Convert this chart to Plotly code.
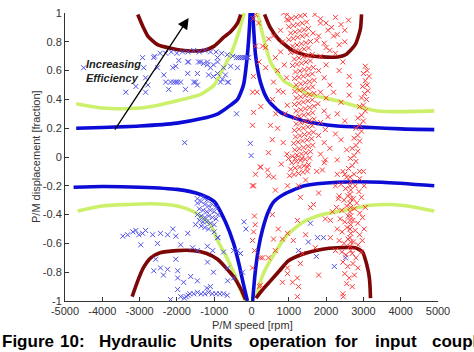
import plotly.graph_objects as go

# ---------------- efficiency contour curves (speed rpm, displacement fraction)
blue_tl_x = [-4700, -4000, -3000, -2000, -1365, -900, -560, -375, -215, -110, -50, -35]
blue_tl_y = [0.20, 0.205, 0.215, 0.235, 0.265, 0.30, 0.36, 0.40, 0.50, 0.71, 0.92, 1.0]
blue_tr_x = [30, 60, 107, 240, 430, 780, 1420, 2300, 3190, 4000, 4900]
blue_tr_y = [1.0, 0.88, 0.71, 0.52, 0.40, 0.31, 0.25, 0.215, 0.205, 0.195, 0.19]
blue_bl_x = [-4770, -4000, -3000, -2000, -1365, -1000, -700, -480, -330, -220, -110]
blue_bl_y = [-0.21, -0.205, -0.21, -0.225, -0.26, -0.31, -0.45, -0.60, -0.75, -0.88, -1.0]
blue_br_x = [30, 100, 190, 300, 450, 600, 860, 1420, 2300, 3500, 4900]
blue_br_y = [-1.0, -0.80, -0.63, -0.50, -0.38, -0.31, -0.26, -0.20, -0.175, -0.175, -0.20]

yel_tl_x = [-4700, -4000, -3500, -3000, -2500, -2000, -1365, -1000, -830, -560, -400, -280, -200]
yel_tl_y = [0.37, 0.34, 0.335, 0.34, 0.36, 0.39, 0.435, 0.50, 0.58, 0.71, 0.82, 0.92, 1.0]
yel_tr_x = [160, 300, 510, 860, 1045, 1500, 2300, 3000, 3370, 4000, 4900]
yel_tr_y = [1.0, 0.85, 0.66, 0.53, 0.50, 0.44, 0.39, 0.34, 0.32, 0.315, 0.32]
yel_bl_x = [-4660, -4000, -3320, -2700, -2000, -1550, -1100, -910, -700, -500, -330, -170]
yel_bl_y = [-0.375, -0.34, -0.33, -0.325, -0.34, -0.38, -0.47, -0.58, -0.68, -0.79, -0.90, -1.0]
yel_br_x = [120, 300, 615, 965, 1400, 1900, 2600, 3190, 3720, 4300, 4900]
yel_br_y = [-0.98, -0.82, -0.67, -0.54, -0.45, -0.40, -0.365, -0.335, -0.33, -0.345, -0.375]

red_tl_x = [-3050, -2900, -2780, -2520, -2170, -1800, -1285, -1000, -750, -560, -375, -290]
red_tl_y = [0.99, 0.90, 0.84, 0.78, 0.755, 0.74, 0.74, 0.77, 0.83, 0.87, 0.93, 0.99]
red_tr_x = [350, 500, 720, 1100, 1420, 1900, 2300, 2520, 2780, 2920, 2950]
red_tr_y = [0.99, 0.90, 0.82, 0.74, 0.71, 0.695, 0.695, 0.71, 0.78, 0.89, 0.99]
red_bl_x = [-3200, -3050, -2900, -2700, -2450, -2000, -1550, -1200, -910, -650, -430, -280, -160]
red_bl_y = [-0.97, -0.86, -0.77, -0.70, -0.665, -0.65, -0.65, -0.67, -0.71, -0.78, -0.85, -0.92, -0.99]
red_br_x = [120, 300, 510, 750, 990, 1420, 1900, 2300, 2780, 2980, 3050, 3120, 3160, 3180, 3190]
red_br_y = [-0.98, -0.92, -0.86, -0.79, -0.72, -0.67, -0.64, -0.63, -0.63, -0.66, -0.71, -0.78, -0.84, -0.91, -0.98]

# ---------------- measured operating points (red: one unit, blue: other unit)
red_band = [
    (950, 0.955), (1070, 0.963), (1190, 0.971), (1310, 0.979), (1430, 0.987),
    (1000, 0.905), (1120, 0.913), (1240, 0.921), (1360, 0.929), (1480, 0.937),
    (1050, 0.86), (1170, 0.868), (1290, 0.876), (1410, 0.884), (1530, 0.892),
    (1000, 0.815), (1120, 0.823), (1240, 0.831), (1360, 0.839), (1480, 0.847),
    (1100, 0.77), (1220, 0.778), (1340, 0.786), (1460, 0.794), (1580, 0.802),
    (1050, 0.725), (1170, 0.733), (1290, 0.741), (1410, 0.749), (1530, 0.757),
    (1150, 0.68), (1270, 0.688), (1390, 0.696), (1510, 0.704), (1630, 0.712),
    (1100, 0.635), (1220, 0.643), (1340, 0.651), (1460, 0.659), (1580, 0.667),
    (1180, 0.59), (1300, 0.598), (1420, 0.606), (1540, 0.614), (1660, 0.622),
    (1150, 0.545), (1270, 0.553), (1390, 0.561), (1510, 0.569), (1630, 0.577),
    (1200, 0.50), (1320, 0.508), (1440, 0.516), (1560, 0.524), (1680, 0.532),
    (1160, 0.455), (1280, 0.463), (1400, 0.471), (1520, 0.479), (1640, 0.487),
    (1200, 0.41), (1320, 0.418), (1440, 0.426), (1560, 0.434), (1680, 0.442),
    (1150, 0.365), (1270, 0.373), (1390, 0.381), (1510, 0.389), (1630, 0.397),
    (1200, 0.32), (1320, 0.328), (1440, 0.336), (1560, 0.344), (1680, 0.352),
    (1160, 0.275), (1280, 0.283), (1400, 0.291), (1520, 0.299), (1640, 0.307),
    (1200, 0.23), (1320, 0.238), (1440, 0.246), (1560, 0.254), (1680, 0.262),
    (1150, 0.185), (1270, 0.193), (1390, 0.201), (1510, 0.209), (1630, 0.217),
    (1180, 0.14), (1300, 0.148), (1420, 0.156), (1540, 0.164), (1660, 0.172),
    (1130, 0.095), (1250, 0.103), (1370, 0.111), (1490, 0.119), (1610, 0.127),
    (1160, 0.05), (1280, 0.058), (1400, 0.066), (1520, 0.074), (1640, 0.082),
    (1100, 0.005), (1220, 0.013), (1340, 0.021), (1460, 0.029), (1580, 0.037),
    (1080, -0.04), (1200, -0.032), (1320, -0.024), (1440, -0.016), (1560, -0.008),
    (1050, -0.085), (1170, -0.077), (1290, -0.069), (1410, -0.061), (1530, -0.053),
    (1020, -0.13), (1140, -0.122), (1260, -0.114), (1380, -0.106), (1500, -0.098),
]
red_sparse_top = [
    (1850, 0.93), (2050, 0.88), (1800, 0.84), (1950, 0.79), (2100, 0.74), (1850, 0.70),
    (2000, 0.64), (1800, 0.60), (1950, 0.55), (2100, 0.50), (1850, 0.45), (2000, 0.41),
    (1780, 0.37), (1950, 0.32), (2050, 0.28), (1850, 0.24), (1980, 0.19), (1800, 0.15),
    (1950, 0.10), (2100, 0.06), (1850, 0.02), (1950, -0.04), (1750, -0.10),
    (2250, 0.97), (2400, 0.92), (2300, 0.85), (2500, 0.80), (2250, 0.72), (2450, 0.66),
    (2350, 0.60), (2200, 0.45), (2400, 0.38), (2300, 0.30), (2500, 0.25), (2250, 0.16),
    (2400, 0.12), (2550, 0.05), (2300, -0.02),
    (1700, 0.99), (1850, 0.96), (2000, 0.93), (2150, 0.90), (1650, 0.86), (2200, 0.84),
    (1750, 0.81), (2350, 0.78), (2000, 0.76), (2600, 0.95), (2500, 0.88),
    (2620, 0.56), (2620, 0.50), (2620, 0.43),
]
red_near_zero = [
    (50, 0.96), (110, 0.99), (190, 0.93), (110, 0.77), (300, 0.77), (380, 0.76),
    (50, 0.56), (380, 0.62), (590, 0.52), (640, 0.69), (590, 0.84), (460, 0.82),
    (780, 0.88), (830, 0.80), (860, 1.0), (960, 0.99), (990, 0.95), (780, 0.73),
    (720, 0.46), (560, 0.40), (200, 0.66), (150, 0.45), (700, 0.60), (880, 0.64),
    (940, 0.55), (850, 0.45), (960, 0.36), (650, 0.30),
    (55, 0.31), (27, 0.22), (510, 0.22), (560, 0.12), (455, 0.03), (240, -0.07),
    (430, -0.09), (107, -0.12), (55, -0.20), (590, -0.14), (640, -0.23), (30, 0.45),
    (250, 0.35), (700, 0.20), (850, 0.10), (800, -0.05), (900, 0.30), (950, 0.02),
    (27, -0.20), (80, -0.41), (27, -0.58), (80, -0.65), (27, -0.77), (240, -0.70),
    (215, -0.90), (100, -0.47), (55, -0.52),
]
red_right_diag = [
    (3050, 0.63), (3100, 0.60), (3000, 0.58), (3150, 0.56), (3050, 0.53), (3100, 0.50),
    (2980, 0.49), (3120, 0.46), (3030, 0.44), (2950, 0.41), (3080, 0.40), (3000, 0.36),
    (2900, 0.35), (3050, 0.32), (2950, 0.29), (2850, 0.27), (3000, 0.25), (2900, 0.22),
    (2800, 0.20), (2950, 0.18), (2850, 0.15), (2750, 0.13), (2900, 0.11), (2800, 0.08),
    (2700, 0.06), (2850, 0.04), (2750, 0.01), (2650, -0.01), (2800, -0.03), (2700, -0.06),
    (2600, -0.08), (2900, -0.10), (2500, -0.12),
]
red_column = [
    (2640, -0.14), (2660, -0.17), (2640, -0.20), (2660, -0.23), (2640, -0.26), (2660, -0.29),
    (2640, -0.32), (2660, -0.35), (2640, -0.38), (2660, -0.41), (2640, -0.44), (2660, -0.47),
    (2640, -0.50), (2660, -0.53), (2640, -0.56), (2660, -0.59), (2640, -0.62), (2660, -0.65),
    (2300, -0.12), (2450, -0.10), (2550, -0.14), (2750, -0.12), (2900, -0.15), (3000, -0.10),
    (2250, -0.20), (2400, -0.19), (2520, -0.22), (2780, -0.20), (2880, -0.24), (3020, -0.20),
    (2350, -0.27), (2480, -0.30), (2580, -0.27), (2730, -0.29), (2820, -0.32), (2950, -0.28),
    (2280, -0.35), (2420, -0.37), (2550, -0.34), (2760, -0.36), (2900, -0.39), (3050, -0.35),
    (2380, -0.43), (2500, -0.45), (2590, -0.41), (2720, -0.44), (2850, -0.46), (2980, -0.42),
    (2300, -0.50), (2430, -0.52), (2560, -0.49), (2780, -0.51), (2900, -0.54), (3020, -0.50),
    (2350, -0.58), (2480, -0.60), (2590, -0.57), (2730, -0.59), (2860, -0.61), (2970, -0.58),
    (2420, -0.66), (2530, -0.68), (2700, -0.67), (2800, -0.70), (2950, -0.66),
    (2450, -0.73), (2580, -0.76), (2720, -0.74), (2850, -0.77),
    (2500, -0.81), (2620, -0.84), (2760, -0.82), (2550, -0.88), (2700, -0.90), (2450, -0.95),
]
red_sparse_bottom = [
    (240, -0.07), (455, -0.13), (990, -0.01), (1180, -0.01), (1350, -0.01), (1500, -0.07),
    (1900, -0.09), (1980, -0.02), (965, -0.20), (1260, -0.20), (1450, -0.16), (1800, -0.25),
    (1310, -0.28), (1580, -0.35), (2170, -0.38), (1230, -0.44), (830, -0.57), (1120, -0.58),
    (965, -0.53), (1450, -0.54), (1710, -0.63), (2115, -0.56), (2250, -0.65), (1310, -0.74),
    (965, -0.81), (1230, -0.84), (1100, -0.87), (830, -0.87), (1260, -0.90), (1800, -0.82),
    (1230, -0.97), (2460, -0.97), (640, -0.65), (590, -0.57), (455, -0.70), (295, -0.70),
    (240, -0.89), (965, -0.77), (1370, -0.67), (1980, -0.43), (2115, -0.44), (1660, -0.33),
    (2330, -0.29), (560, -0.40), (720, -0.50),
]

blue_top_row = [
    (-2600, 0.70), (-2450, 0.72), (-2300, 0.72), (-2150, 0.73), (-2000, 0.72), (-1850, 0.73),
    (-1700, 0.73), (-1550, 0.74), (-1400, 0.73), (-1250, 0.74), (-1100, 0.73), (-950, 0.73),
    (-800, 0.72), (-650, 0.71), (-500, 0.70), (-400, 0.69), (-300, 0.69), (-200, 0.69),
    (-120, 0.69), (-350, 0.69), (-250, 0.69), (-160, 0.69), (-80, 0.69),
]
blue_top_scatter = [
    (-4500, 0.62), (-3370, 0.45), (-3100, 0.49), (-2920, 0.69), (-2890, 0.62), (-2840, 0.55),
    (-2780, 0.50), (-2840, 0.45), (-2520, 0.62), (-2350, 0.57), (-2220, 0.47), (-2110, 0.62),
    (-2030, 0.52), (-1950, 0.67), (-1770, 0.47), (-1710, 0.66), (-1500, 0.52), (-1450, 0.58),
    (-1420, 0.66), (-1180, 0.66), (-1100, 0.62), (-1020, 0.56), (-910, 0.66), (-750, 0.62),
    (-830, 0.52), (-700, 0.57), (-620, 0.52), (-2620, 0.69), (-2300, 0.52), (-2170, 0.52),
    (-2090, 0.52), (-1980, 0.52), (-1900, 0.52), (-2030, 0.63), (-1690, 0.66), (-1710, 0.58),
    (-1550, 0.52), (-1450, 0.50), (-1365, 0.66), (-1285, 0.65), (-1180, 0.64), (-1020, 0.64),
    (-910, 0.69), (-1150, 0.57), (-910, 0.58), (-780, 0.54), (-640, 0.52), (-560, 0.63),
    (-1790, 0.10), (-400, 0.30), (-30, 0.095), (-10, 0.01), (-375, 0.62),
]
blue_bottom_cluster = [
    (-1450, -0.32), (-1350, -0.31), (-1250, -0.33), (-1150, -0.34), (-1050, -0.33), (-950, -0.35),
    (-1400, -0.36), (-1300, -0.37), (-1200, -0.38), (-1100, -0.37), (-1000, -0.38), (-900, -0.40),
    (-1450, -0.40), (-1350, -0.41), (-1250, -0.42), (-1150, -0.41), (-1050, -0.42), (-950, -0.43),
    (-1400, -0.44), (-1300, -0.45), (-1200, -0.45), (-1100, -0.46), (-1000, -0.47), (-1350, -0.48),
    (-1250, -0.49), (-1150, -0.50), (-1450, -0.29), (-1300, -0.28), (-1200, -0.30), (-900, -0.56),
    (-1000, -0.52), (-1500, -0.47),
]
blue_bottom_scatter = [
    (-3450, -0.55), (-3320, -0.54), (-3180, -0.52), (-3100, -0.51), (-3020, -0.54), (-2920, -0.53),
    (-2970, -0.61), (-2840, -0.51), (-2650, -0.54), (-2520, -0.60), (-2440, -0.53), (-2250, -0.54),
    (-2110, -0.50), (-2030, -0.55), (-1900, -0.61), (-1710, -0.53), (-1580, -0.63), (-1450, -0.65),
    (-1180, -0.62), (-1040, -0.65), (-750, -0.66), (-480, -0.65), (-295, -0.67), (-2570, -0.71),
    (-2440, -0.77), (-2620, -0.79), (-2250, -0.78), (-2360, -0.82), (-1980, -0.79), (-2030, -0.71),
    (-1980, -0.84), (-1820, -0.87), (-1630, -0.83), (-1450, -0.86), (-1980, -0.92), (-2170, -0.99),
    (-1900, -0.97), (-1180, -0.73), (-1020, -0.80), (-640, -0.77), (-480, -0.84), (-240, -0.80),
    (-640, -0.86), (-910, -0.56), (-370, -0.65), (-300, -0.67), (-200, -0.45), (-150, -0.50),
    (-1750, -0.97), (-1650, -0.95), (-1550, -0.95), (-1450, -0.94), (-1350, -0.95), (-1250, -0.95),
    (-1150, -0.94), (-1050, -0.95), (-950, -0.95), (-850, -0.95), (-750, -0.95), (-650, -0.96),
    (-1800, -0.98), (-1700, -0.96), (-1100, -0.90), (-1200, -0.91),
    (1580, -0.46), (1525, -0.59), (1770, -0.56), (1930, -0.56), (1260, -0.65), (1740, -0.69),
    (2220, -0.76), (2520, -0.70),
]

x_tick_vals = [-5000, -4000, -3000, -2000, -1000, 0, 1000, 2000, 3000, 4000, 5000]
x_tick_text = ["-5000", "-4000", "-3000", "-2000", "-1000", "0", "1000", "2000", "3000", "4000", "5000"]
y_tick_vals = [-1, -0.8, -0.6, -0.4, -0.2, 0, 0.2, 0.4, 0.6, 0.8, 1]
y_tick_text = ["-1", "-0.8", "-0.6", "-0.4", "-0.2", "0", "0.2", "0.4", "0.6", "0.8", "1"]

caption_words = ["Figure", "10:", "Hydraulic", "Units", "operation", "for", "input", "couple"]
caption_px = [0, 58, 97, 188, 247, 333, 373, 430]

BLUE_LINE = "#0c0cd6"
YEL_LINE = "#cdf06c"
RED_LINE = "#7d0606"
BLUE_PT = "#5050ec"
RED_PT = "#ff3838"

FONT = "Liberation Sans, Arial, sans-serif"

fig = go.Figure()

def add_curve(xs, ys, col):
    fig.add_trace(go.Scatter(x=xs, y=ys, mode="lines", showlegend=False, hoverinfo="skip",
                             line=dict(color=col, width=3.6, shape="spline", smoothing=0.6)))

for xs, ys in [(yel_tl_x, yel_tl_y), (yel_tr_x, yel_tr_y), (yel_bl_x, yel_bl_y), (yel_br_x, yel_br_y)]:
    add_curve(xs, ys, YEL_LINE)
for xs, ys in [(red_tl_x, red_tl_y), (red_tr_x, red_tr_y), (red_bl_x, red_bl_y), (red_br_x, red_br_y)]:
    add_curve(xs, ys, RED_LINE)
for xs, ys in [(blue_tl_x, blue_tl_y), (blue_tr_x, blue_tr_y), (blue_bl_x, blue_bl_y), (blue_br_x, blue_br_y)]:
    add_curve(xs, ys, BLUE_LINE)

def add_points(groups, col):
    pts = [p for g in groups for p in g]
    fig.add_trace(go.Scatter(x=[p[0] for p in pts], y=[p[1] for p in pts], mode="markers",
                             showlegend=False, hoverinfo="skip",
                             marker=dict(symbol="x-thin", size=5, color=col,
                                         line=dict(color=col, width=1.0))))

add_points([blue_top_row, blue_top_scatter, blue_bottom_cluster, blue_bottom_scatter], BLUE_PT)
add_points([red_band, red_sparse_top, red_near_zero, red_right_diag, red_column, red_sparse_bottom], RED_PT)

L, R, T, B = 65, 36, 7, 51
W, H = 474, 352
pw, ph = W - L - R, H - T - B

def px_to_paper_x(px):
    return (px - L) / pw

def px_to_paper_y(py):
    return (H - B - py) / ph

annotations = []
annotations.append(dict(x=-1685, y=0.966, ax=-3690, ay=0.18, xref="x", yref="y", axref="x", ayref="y",
                        showarrow=True, arrowhead=2, arrowsize=1.7, arrowwidth=1.3, arrowcolor="#000000",
                        text=""))
annotations.append(dict(x=-4500, y=0.595, xref="x", yref="y", xanchor="left", yanchor="middle",
                        align="left", showarrow=False,
                        text="<b><i>Increasing<br>Efficiency</i></b>",
                        font=dict(family=FONT, size=11, color="#222222")))
annotations.append(dict(x=px_to_paper_x(28), y=0.5, xref="paper", yref="paper", textangle=-90,
                        showarrow=False, text="P/M displacement [fraction]",
                        font=dict(family=FONT, size=11, color="#333333")))
annotations.append(dict(x=px_to_paper_x(252), y=px_to_paper_y(325), xref="paper", yref="paper",
                        showarrow=False, text="P/M speed [rpm]", yanchor="middle",
                        font=dict(family=FONT, size=11, color="#333333")))
for w, p in zip(caption_words, caption_px):
    annotations.append(dict(x=px_to_paper_x(p), y=px_to_paper_y(331), xref="paper", yref="paper",
                            xanchor="left", yanchor="top", showarrow=False, text="<b>" + w + "</b>",
                            font=dict(family=FONT, size=17, color="#000000")))

fig.update_layout(
    width=W, height=H,
    margin=dict(l=L, r=R, t=T, b=B, pad=0),
    paper_bgcolor="white", plot_bgcolor="white",
    annotations=annotations,
    xaxis=dict(range=[-5000, 5000], tickvals=x_tick_vals, ticktext=x_tick_text,
               ticks="inside", ticklen=4, tickcolor="#333333", showline=True, linecolor="#333333",
               linewidth=1, showgrid=False, zeroline=False,
               tickfont=dict(family=FONT, size=11, color="#333333")),
    yaxis=dict(range=[-1, 1], tickvals=y_tick_vals, ticktext=y_tick_text,
               ticks="inside", ticklen=4, tickcolor="#333333", showline=True, linecolor="#333333",
               linewidth=1, showgrid=False, zeroline=False,
               tickfont=dict(family=FONT, size=11, color="#333333")),
)

fig.write_html("out.html")
